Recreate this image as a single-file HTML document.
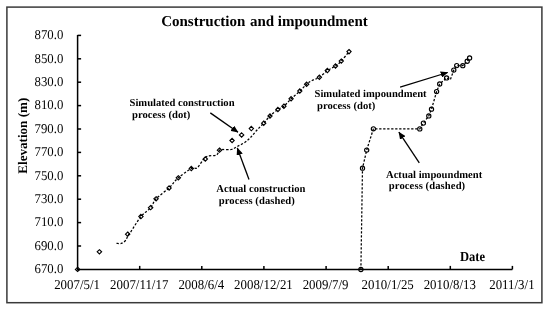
<!DOCTYPE html><html><head><meta charset="utf-8"><title>Construction and impoundment</title><style>html,body{margin:0;padding:0;background:#fff;}svg{display:block;}text{font-family:"Liberation Serif",serif;fill:#000;text-rendering:geometricPrecision;}</style></head><body>
<svg width="550" height="309" viewBox="0 0 550 309">
<rect x="0" y="0" width="550" height="309" fill="#fff"/>
<rect x="6.9" y="7.1" width="535" height="295.6" fill="none" stroke="#3a3a3a" stroke-width="1.5"/>
<text transform="translate(264.5,25.7)" text-anchor="middle" font-weight="bold" font-size="15">Construction<tspan dx="0.8"> </tspan>and impoundment</text>
<g stroke="#000" stroke-width="1.5" fill="none">
<path d="M77.6,34.9V269.4H512.4"/>
<path d="M77.6,246.0h3.5"/>
<path d="M77.6,222.6h3.5"/>
<path d="M77.6,199.2h3.5"/>
<path d="M77.6,175.8h3.5"/>
<path d="M77.6,152.4h3.5"/>
<path d="M77.6,129.0h3.5"/>
<path d="M77.6,105.6h3.5"/>
<path d="M77.6,82.2h3.5"/>
<path d="M77.6,58.8h3.5"/>
<path d="M77.6,35.4h3.5"/>
<path d="M139.7,269.4v-3.5"/>
<path d="M201.8,269.4v-3.5"/>
<path d="M263.9,269.4v-3.5"/>
<path d="M326.1,269.4v-3.5"/>
<path d="M388.2,269.4v-3.5"/>
<path d="M450.3,269.4v-3.5"/>
<path d="M512.4,269.4v-3.5"/>
</g>
<text transform="translate(63.30,273.20) scale(1,1.05)" font-size="12.8" text-anchor="end">670.0</text>
<text transform="translate(63.30,249.80) scale(1,1.05)" font-size="12.8" text-anchor="end">690.0</text>
<text transform="translate(63.30,226.40) scale(1,1.05)" font-size="12.8" text-anchor="end">710.0</text>
<text transform="translate(63.30,203.00) scale(1,1.05)" font-size="12.8" text-anchor="end">730.0</text>
<text transform="translate(63.30,179.60) scale(1,1.05)" font-size="12.8" text-anchor="end">750.0</text>
<text transform="translate(63.30,156.20) scale(1,1.05)" font-size="12.8" text-anchor="end">770.0</text>
<text transform="translate(63.30,132.80) scale(1,1.05)" font-size="12.8" text-anchor="end">790.0</text>
<text transform="translate(63.30,109.40) scale(1,1.05)" font-size="12.8" text-anchor="end">810.0</text>
<text transform="translate(63.30,86.00) scale(1,1.05)" font-size="12.8" text-anchor="end">830.0</text>
<text transform="translate(63.30,62.60) scale(1,1.05)" font-size="12.8" text-anchor="end">850.0</text>
<text transform="translate(63.30,39.20) scale(1,1.05)" font-size="12.8" text-anchor="end">870.0</text>
<text transform="translate(77.10,288.60) scale(1,1.05)" font-size="12.9" text-anchor="middle">2007/5/1</text>
<text transform="translate(139.21,288.60) scale(1,1.05)" font-size="12.9" text-anchor="middle">2007/11/17</text>
<text transform="translate(201.33,288.60) scale(1,1.05)" font-size="12.9" text-anchor="middle">2008/6/4</text>
<text transform="translate(263.44,288.60) scale(1,1.05)" font-size="12.9" text-anchor="middle">2008/12/21</text>
<text transform="translate(325.56,288.60) scale(1,1.05)" font-size="12.9" text-anchor="middle">2009/7/9</text>
<text transform="translate(387.67,288.60) scale(1,1.05)" font-size="12.9" text-anchor="middle">2010/1/25</text>
<text transform="translate(449.79,288.60) scale(1,1.05)" font-size="12.9" text-anchor="middle">2010/8/13</text>
<text transform="translate(511.90,288.60) scale(1,1.05)" font-size="12.9" text-anchor="middle">2011/3/1</text>
<text transform="translate(472.50,260.80) scale(1,1.1)" font-size="12.6" font-weight="bold" text-anchor="middle">Date</text>
<text transform="translate(27.10,135.70) rotate(-90) scale(1,1.0)" font-size="13.1" font-weight="bold" text-anchor="middle">Elevation (m)</text>
<g fill="none" stroke="#000" stroke-width="1.25" stroke-dasharray="2.3,1.7">
<path d="M116.50,243.40C117.30,243.40 119.80,243.88 121.30,243.40C122.80,242.92 124.33,241.90 125.50,240.50C126.67,239.10 127.38,236.50 128.30,235.00C129.22,233.50 128.90,234.57 131.00,231.50C133.10,228.43 137.63,220.57 140.90,216.60C144.17,212.63 148.07,210.67 150.60,207.70C153.13,204.73 153.02,202.10 156.10,198.80C159.18,195.50 165.40,191.40 169.10,187.90C172.80,184.40 174.60,181.02 178.30,177.80C182.00,174.58 188.15,170.27 191.30,168.60C194.45,166.93 195.18,169.32 197.20,167.80C199.22,166.28 201.65,161.43 203.40,159.50C205.15,157.57 205.53,156.95 207.70,156.20C209.87,155.45 214.43,156.00 216.40,155.00C218.37,154.00 218.52,151.12 219.50,150.20C220.48,149.28 220.32,149.62 222.30,149.50C224.28,149.38 228.83,150.05 231.40,149.50C233.97,148.95 235.43,147.40 237.70,146.20C239.97,145.00 242.78,143.83 245.00,142.30C247.22,140.77 249.00,139.05 251.00,137.00C253.00,134.95 254.88,132.30 257.00,130.00C259.12,127.70 261.53,125.53 263.70,123.20C265.87,120.87 267.63,118.28 270.00,116.00C272.37,113.72 275.58,111.13 277.90,109.50C280.22,107.87 281.70,107.98 283.90,106.20C286.10,104.42 288.45,101.32 291.10,98.80C293.75,96.28 297.22,93.52 299.80,91.10C302.38,88.68 304.57,86.07 306.60,84.30C308.63,82.53 309.87,81.67 312.00,80.50C314.13,79.33 316.83,78.95 319.40,77.30C321.97,75.65 324.72,72.50 327.40,70.60C330.08,68.70 333.18,67.48 335.50,65.90C337.82,64.32 339.05,63.48 341.30,61.10C343.55,58.72 347.72,53.18 349.00,51.60"/>
<polyline points="360.9,269.5 362.5,168.2 366.7,150.1 373.4,128.8 419.8,128.9 423.4,123.1 428.8,115.9 431.5,109.2 436.6,91.6 439.7,84.0 446.6,77.9 450.3,79.8 453.8,70.1 456.7,65.6 462.8,65.7 467.2,61.2 469.6,58.0"/>
</g>
<g fill="none" stroke="#000" stroke-width="1.15">
<path d="M77.6,267.2L79.8,269.4L77.6,271.5L75.4,269.4Z"/>
<path d="M99.4,249.7L101.6,251.8L99.4,254.0L97.2,251.8Z"/>
<path d="M127.7,232.0L129.8,234.2L127.7,236.3L125.5,234.2Z"/>
<path d="M140.9,214.4L143.1,216.6L140.9,218.8L138.8,216.6Z"/>
<path d="M150.6,205.5L152.8,207.7L150.6,209.8L148.4,207.7Z"/>
<path d="M156.1,196.7L158.2,198.8L156.1,201.0L153.9,198.8Z"/>
<path d="M169.1,185.8L171.2,187.9L169.1,190.1L166.9,187.9Z"/>
<path d="M178.3,175.7L180.5,177.8L178.3,180.0L176.2,177.8Z"/>
<path d="M191.3,166.4L193.5,168.6L191.3,170.8L189.2,168.6Z"/>
<path d="M205.3,156.8L207.5,159.0L205.3,161.2L203.2,159.0Z"/>
<path d="M219.5,148.0L221.7,150.2L219.5,152.3L217.3,150.2Z"/>
<path d="M232.1,138.3L234.2,140.5L232.1,142.7L229.9,140.5Z"/>
<path d="M241.6,132.8L243.8,134.9L241.6,137.1L239.4,134.9Z"/>
<path d="M251.3,126.4L253.5,128.6L251.3,130.8L249.2,128.6Z"/>
<path d="M263.7,121.0L265.8,123.2L263.7,125.4L261.6,123.2Z"/>
<path d="M270.0,113.8L272.1,116.0L270.0,118.2L267.9,116.0Z"/>
<path d="M277.9,107.3L280.0,109.5L277.9,111.7L275.8,109.5Z"/>
<path d="M283.9,104.0L286.0,106.2L283.9,108.4L281.8,106.2Z"/>
<path d="M291.1,96.6L293.2,98.8L291.1,101.0L289.0,98.8Z"/>
<path d="M299.8,88.9L301.9,91.1L299.8,93.2L297.7,91.1Z"/>
<path d="M306.6,82.1L308.8,84.3L306.6,86.5L304.5,84.3Z"/>
<path d="M319.4,75.1L321.5,77.3L319.4,79.5L317.2,77.3Z"/>
<path d="M327.4,68.4L329.5,70.6L327.4,72.8L325.2,70.6Z"/>
<path d="M335.5,63.8L337.6,65.9L335.5,68.1L333.4,65.9Z"/>
<path d="M341.3,59.0L343.4,61.1L341.3,63.2L339.2,61.1Z"/>
<path d="M349.0,49.5L351.1,51.6L349.0,53.8L346.9,51.6Z"/>
<circle cx="360.9" cy="269.5" r="2.1" fill="none"/>
<circle cx="362.5" cy="168.2" r="2.1" fill="none"/>
<circle cx="366.7" cy="150.1" r="2.1" fill="none"/>
<circle cx="373.4" cy="128.8" r="2.1" fill="none"/>
<circle cx="419.8" cy="128.9" r="2.1" fill="none"/>
<circle cx="423.4" cy="123.1" r="2.1" fill="none"/>
<circle cx="428.8" cy="115.9" r="2.1" fill="none"/>
<circle cx="431.5" cy="109.2" r="2.1" fill="none"/>
<circle cx="436.6" cy="91.6" r="2.1" fill="none"/>
<circle cx="439.7" cy="84.0" r="2.1" fill="none"/>
<circle cx="446.6" cy="77.9" r="2.1" fill="none"/>
<circle cx="453.8" cy="70.1" r="2.1" fill="none"/>
<circle cx="456.7" cy="65.6" r="2.1" fill="none"/>
<circle cx="462.8" cy="65.7" r="2.1" fill="none"/>
<circle cx="467.2" cy="61.2" r="2.1" fill="none"/>
<circle cx="469.6" cy="58.0" r="2.1" fill="none"/>
</g>
<defs><marker id="ah" markerWidth="7.5" markerHeight="6.5" refX="7" refY="3.25" orient="auto" markerUnits="userSpaceOnUse"><path d="M0,0L7.5,3.25L0,6.5Z" fill="#000"/></marker></defs>
<g stroke="#000" stroke-width="1.3" fill="none">
<path d="M210.3,112.9L238,132.3" marker-end="url(#ah)"/>
<path d="M249,179.6L237.3,148" marker-end="url(#ah)"/>
<path d="M400.1,87.2L447.7,72.5" marker-end="url(#ah)"/>
<path d="M419.3,162.8L398.9,132.1" marker-end="url(#ah)"/>
</g>
<text transform="translate(129.50,106.30) scale(1,1.0)" font-size="10.6" font-weight="bold" text-anchor="start">Simulated construction</text>
<text transform="translate(132.00,118.30) scale(1,1.0)" font-size="10.6" font-weight="bold" letter-spacing="0.05" text-anchor="start">process (dot)</text>
<text transform="translate(216.30,191.70) scale(1,1.0)" font-size="10.6" font-weight="bold" text-anchor="start">Actual construction</text>
<text transform="translate(218.70,203.70) scale(1,1.0)" font-size="10.6" font-weight="bold" letter-spacing="0.08" text-anchor="start">process (dashed)</text>
<text transform="translate(314.50,96.70) scale(1,1.0)" font-size="10.6" font-weight="bold" text-anchor="start">Simulated impoundment</text>
<text transform="translate(317.00,109.00) scale(1,1.0)" font-size="10.6" font-weight="bold" letter-spacing="0.05" text-anchor="start">process (dot)</text>
<text transform="translate(386.00,177.60) scale(1,1.0)" font-size="10.6" font-weight="bold" text-anchor="start">Actual impoundment</text>
<text transform="translate(388.80,189.30) scale(1,1.0)" font-size="10.6" font-weight="bold" letter-spacing="0.1" text-anchor="start">process (dashed)</text>
</svg></body></html>
